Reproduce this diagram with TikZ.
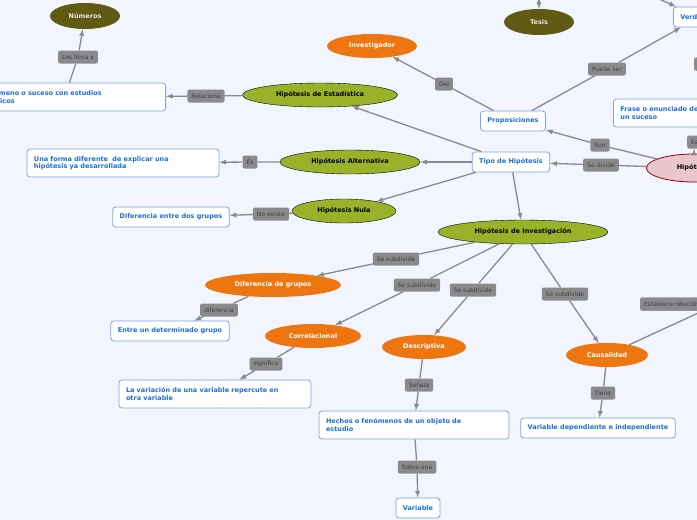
\documentclass[tikz,border=0pt]{standalone}
\usepackage{fontspec}
\setmainfont{DejaVu Sans}
\usetikzlibrary{arrows,positioning,calc,shapes.geometric}
\definecolor{bgc}{HTML}{F2F5FD}
\definecolor{olv}{HTML}{5F5A14}
\definecolor{grn}{HTML}{9AB22A}
\definecolor{org}{HTML}{EE7611}
\definecolor{blu}{HTML}{1C6FD8}
\definecolor{lbl}{HTML}{8A8A8D}
\definecolor{pnk}{HTML}{E8C6CB}
\tikzset{
  olive/.style={ellipse, fill=olv, text=white!85!olv, font=\bfseries\fontsize{6.5}{7.5}\selectfont, minimum width=70pt, minimum height=26pt},
  green/.style={ellipse, fill=grn, draw=black, font=\bfseries\fontsize{6.5}{7.5}\selectfont, minimum height=24pt},
  orange/.style={ellipse, fill=org, text=white, font=\bfseries\fontsize{6.5}{7.5}\selectfont, minimum height=24pt},
  box/.style={rectangle, rounded corners=3pt, draw=blu!60, fill=white, thick, text=blu, font=\bfseries\fontsize{6.5}{7.5}\selectfont, align=left, inner xsep=7pt, minimum height=20pt},
  lab/.style={rectangle, rounded corners=2pt, fill=lbl, text=black!75, font=\fontsize{6}{7}\selectfont, minimum height=13pt, inner xsep=4pt},
  link/.style={draw=lbl, line width=1.3pt, -latex}
}
\begin{document}
\begin{tikzpicture}[x=1pt,y=-1pt]
  \fill[bgc] (0,0) rectangle (697,520);
  \clip (0,0) rectangle (697,520);
  \coordinate (top1) at (539,-5);
  \coordinate (top2) at (650,-5);

  \node (num) [olive] at (85,16) {Números};
  \node (tes) [olive] at (539,22) {Tesis};
  \node (ver) [box, anchor=west] at (673,17) {Verdadera};
  \node (inv) [orange, minimum width=90pt] at (372,46) {Investigador};
  \node (hest) [green, minimum width=155pt] at (320,95) {Hipótesis de Estadística};
  \node (fen) [box, anchor=east, text width=188pt, minimum height=28pt] at (166,97) {Un fenómeno o suceso con estudios\\estadísticos};
  \node (pro) [box] at (513,121) {Proposiciones};
  \node (fra) [box, anchor=west, minimum height=28pt] at (613,113) {Frase o enunciado de\\un suceso};
  \node (hip) [ellipse, fill=pnk, draw=black!40!red, thick, font=\bfseries\fontsize{6.5}{7.5}\selectfont, minimum width=95pt, minimum height=28pt, anchor=west] at (646,168) {Hipótesis};
  \node (tipo) [box] at (511,162) {Tipo de Hipótesis};
  \node (halt) [green, minimum width=140pt] at (350,162) {Hipótesis Alternativa};
  \node (otra) [box, minimum height=28pt, text width=178pt] at (123,163) {Una forma diferente\ \ de explicar una\\hipótesis ya desarrollada};
  \node (hnul) [green, minimum width=104pt] at (344,211) {Hipótesis Nula};
  \node (dif) [box] at (171,217) {Diferencia entre dos grupos};
  \node (hinv) [green, minimum width=170pt] at (523,232) {Hipótesis de Investigación};
  \node (dgr) [orange, minimum width=136pt] at (273,285) {Diferencia de grupos};
  \node (ent) [box] at (170,331) {Entre un determinado grupo};
  \node (cor) [orange, minimum width=96pt] at (313,336) {Correlacional};
  \node (var) [box, minimum height=28pt, text width=178pt] at (215,394) {La variación de una variable repercute en\\otra variable};
  \node (des) [orange, minimum width=84pt] at (424,347) {Descriptiva};
  \node (hec) [box, minimum height=28pt, text width=176pt] at (414,425) {Hechos o fenómenos de un objeto de\\estudio};
  \node (vble) [box] at (418,508) {Variable};
  \node (cau) [orange, minimum width=82pt] at (607,355) {Causalidad};
  \node (vdi) [box] at (598,428) {Variable dependiente e independiente};

  \node (l1) [lab] at (78,57) {Los lleva a};
  \node (l2) [lab] at (206,96) {Relaciona};
  \node (l3) [lab] at (444,84) {Del};
  \node (l4) [lab] at (607,69) {Puede ser};
  \node (l5) [lab, anchor=west] at (694,64) {Es};
  \node (l6) [lab, anchor=west] at (687,142) {Es};
  \node (l7) [lab] at (600,145) {Son};
  \node (l8) [lab] at (601,165) {Se divide};
  \node (l9) [lab] at (250,162) {Es};
  \node (l10) [lab] at (271,214) {No existe};
  \node (l11) [lab] at (396,259) {Se subdivide};
  \node (l12) [lab] at (417,285) {Se subdivide};
  \node (l13) [lab] at (473,290) {Se subdivide};
  \node (l14) [lab] at (565,294) {Se subdivide};
  \node (l15) [lab] at (219,310) {diferencia};
  \node (l16) [lab] at (266,364) {significa};
  \node (l17) [lab] at (419,385) {Señala};
  \node (l18) [lab] at (417,467) {Sobre una};
  \node (l19) [lab] at (603,393) {Tiene};
  \node (l20) [lab, anchor=west] at (640,304) {Establece relación};

  \draw[link] (fen) -- (l1) -- (num);
  \draw[link] (top1) -- (tes);
  \draw[link] (top2) -- (ver);
  \draw[link] (hest) -- (l2) -- (fen);
  \draw[link] (pro) -- (l3) -- (inv);
  \draw[link] (pro) -- (l4) -- (ver);
  \draw[link] (hip) -- (l7) -- (pro);
  \draw[link] (hip) -- (l8) -- (tipo);
  \draw[link] (hip.north) -- (l6);
  \draw[link] (tipo) -- (hest);
  \draw[link] (tipo) -- (halt);
  \draw[link] (tipo) -- (hnul);
  \draw[link] (tipo) -- (hinv);
  \draw[link] (halt) -- (l9) -- (otra);
  \draw[link] (hnul) -- (l10) -- (dif);
  \draw[link] (hinv) -- (l11) -- (dgr);
  \draw[link] (hinv) -- (l12) -- (cor);
  \draw[link] (hinv) -- (l13) -- (des);
  \draw[link] (hinv) -- (l14) -- (cau);
  \draw[link] (dgr) -- (l15) -- (ent);
  \draw[link] (cor) -- (l16) -- (var);
  \draw[link] (des) -- (l17) -- (hec);
  \draw[link] (hec) -- (l18) -- (vble);
  \draw[link] (cau) -- (l19) -- (vdi);
  \draw[draw=lbl, line width=1.3pt] (cau) -- (l20.south east);
  \node[lab, anchor=west] at (640,304) {Establece relación};
  \node[lab, anchor=west] at (694,64) {Es};
\end{tikzpicture}
\end{document}
